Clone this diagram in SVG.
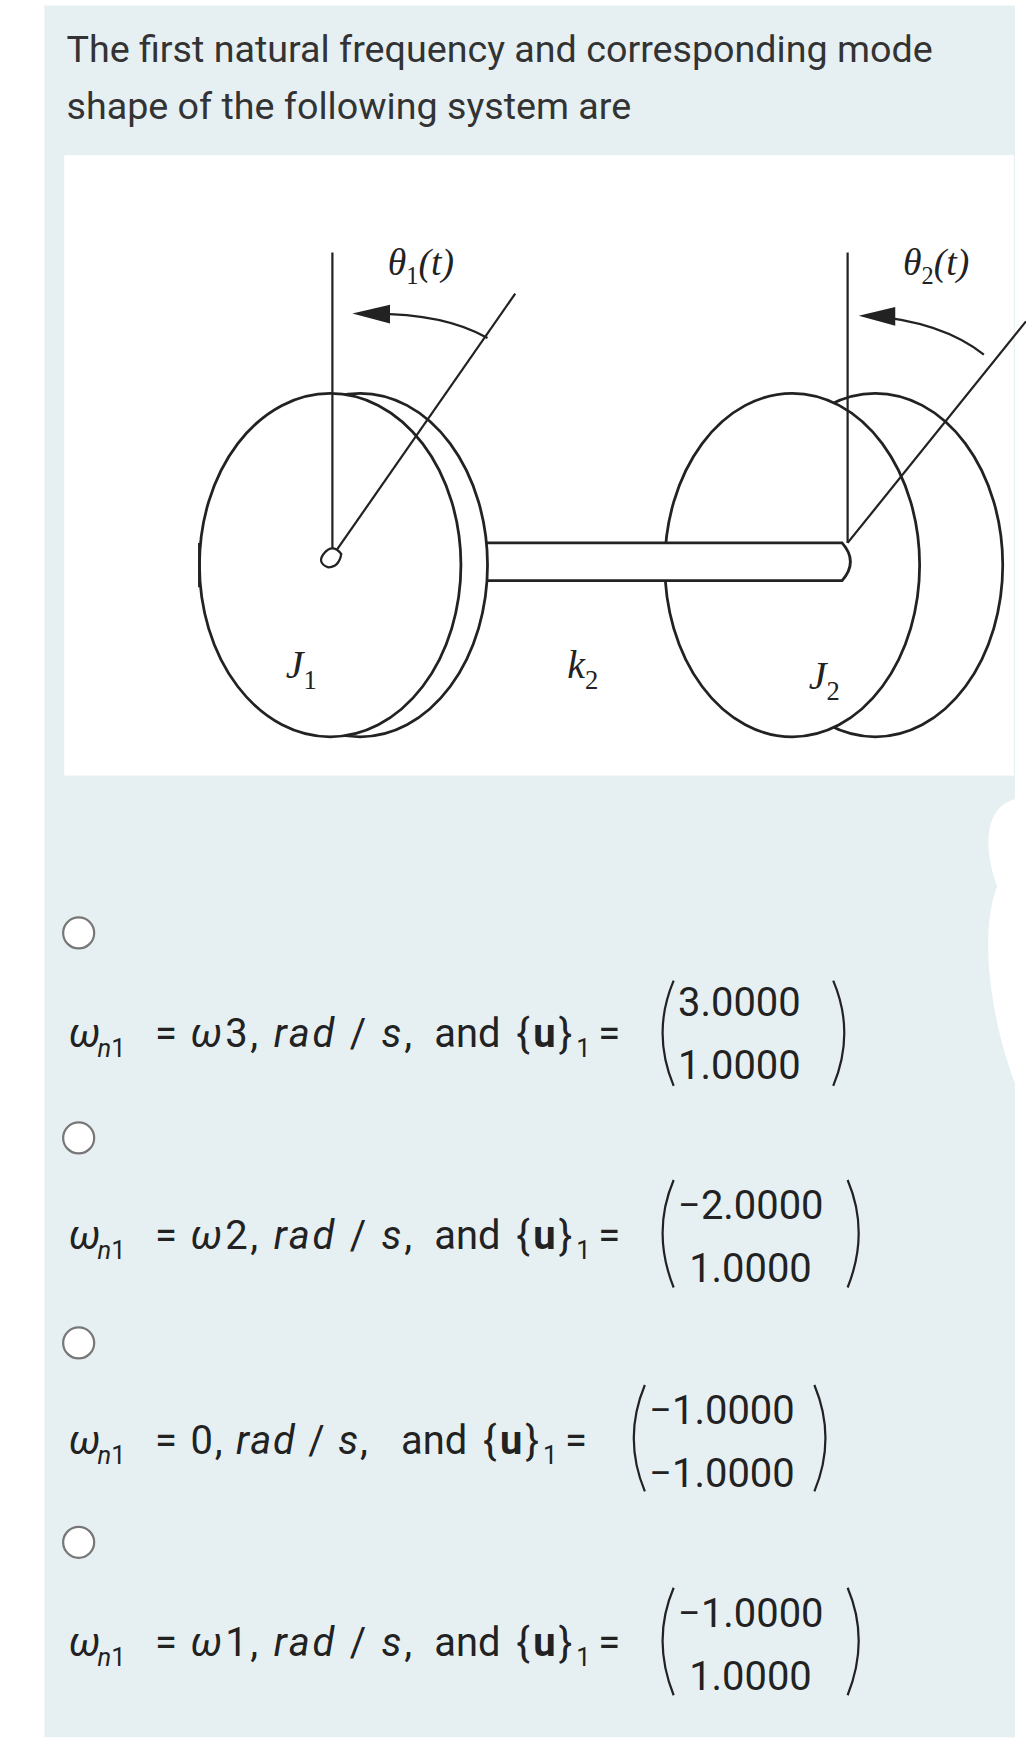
<svg xmlns="http://www.w3.org/2000/svg" width="1026" height="1738" viewBox="0 0 1026 1738">
<style>
.t{font-family:"Roboto","Liberation Sans",sans-serif;fill:#333}
.s{font-family:"Liberation Serif",serif;fill:#222;font-style:italic}
.m{font-family:"Roboto","Liberation Sans",sans-serif;fill:#222;font-size:36px}
.i{font-style:italic}
.b{font-weight:bold}
.sb{font-size:23px}
.l{stroke:#222;stroke-width:2.5}
.p{fill:none;stroke:#222;stroke-width:2}
.c{fill:#fff;stroke:#777;stroke-width:2}
</style>
<defs>
<g id="f">
<text class="m i" x="62" y="0">ω</text>
<text class="m sb" x="88" y="9"><tspan class="i">n</tspan>1</text>
<text class="m" x="140" y="0">=</text>
</g>
<g id="g">
<text class="m" x="392" y="0">and</text>
<text class="m" x="466" y="0" letter-spacing="3">{<tspan class="b">u</tspan>}</text>
<text class="m sb" x="520" y="9">1</text>
<text class="m" x="540" y="0">=</text>
</g>
</defs>
<rect width="1026" height="1738" fill="#fff"/>
<g transform="scale(1.108)">
<rect x="40" y="5" width="876" height="1563" fill="#e6f0f3"/>
<path d="M926 720 C890 720 885 760 900 800 C880 850 900 950 926 1000 Z" fill="#fff"/>
<g id="title"><text class="t" x="60" y="56" font-size="34">The first natural frequency and corresponding mode</text>
<text class="t" x="60" y="107" font-size="34">shape of the following system are</text></g>
<rect x="58" y="140" width="857" height="560" fill="#fff"/>
<g id="disk2">
<ellipse class="l" cx="790" cy="510" rx="115" ry="155" style="fill:#fff"/>
<ellipse class="l" cx="715" cy="510" rx="115" ry="155" style="fill:#fff"/>
</g>
<g id="shaft"><path class="l" d="M400 490 L760 490 Q775 507 760 524 L400 524" style="fill:#fff"/></g>
<g id="disk1">
<ellipse class="l" cx="325" cy="510" rx="115" ry="155" style="fill:#fff"/>
<ellipse class="l" cx="298" cy="510" rx="118" ry="155" style="fill:#fff"/>
<path class="l" d="M180 490 L180 530" stroke-width="4"/>
</g>
<g id="angles">
<path class="p" d="M300 228 L300 502"/>
<path class="p" d="M300 502 L465 265"/>
<path class="p" d="M292 500 Q300 490 308 500 Q306 512 296 512 Q286 508 292 500 Z" style="fill:#fff"/>
<path class="p" d="M440 305 Q400 282 330 283"/>
<polygon points="318,283 352,275 352,292" fill="#222"/>
<path class="p" d="M765 228 L765 490"/>
<path class="p" d="M765 490 L926 290"/>
<path class="p" d="M888 320 Q850 290 785 285"/>
<polygon points="775,285 808,277 808,294" fill="#222"/>
</g>
<g id="labels">
<text class="s" x="350" y="248" font-size="34">θ<tspan font-size="22" dy="8" font-style="normal">1</tspan><tspan dy="-8">(t)</tspan></text>
<text class="s" x="815" y="248" font-size="34">θ<tspan font-size="22" dy="8" font-style="normal">2</tspan><tspan dy="-8">(t)</tspan></text>
<text class="s" x="258" y="612" font-size="36">J<tspan font-size="24" dy="10" font-style="normal">1</tspan></text>
<text class="s" x="512" y="612" font-size="36">k<tspan font-size="24" dy="10" font-style="normal">2</tspan></text>
<text class="s" x="730" y="622" font-size="36">J<tspan font-size="24" dy="10" font-style="normal">2</tspan></text>
</g>
<g id="opt1"><circle class="c" cx="71" cy="842" r="14"/>
<use href="#f" y="945"/><use href="#g" y="945"/><text class="m" x="172" y="945" textLength="200" lengthAdjust="spacing"><tspan class="i">ω</tspan>3, <tspan class="i">rad</tspan> / <tspan class="i">s</tspan>,</text>
<path class="p" d="M608 885 Q588 932 608 980"/><path class="p" d="M752 885 Q772 932 752 980"/>
<text class="m" x="612" y="917">3.0000</text><text class="m" x="612" y="974">1.0000</text></g>
<g id="opt2"><circle class="c" cx="71" cy="1027" r="14"/>
<use href="#f" y="1127"/><use href="#g" y="1127"/><text class="m" x="172" y="1127" textLength="200" lengthAdjust="spacing"><tspan class="i">ω</tspan>2, <tspan class="i">rad</tspan> / <tspan class="i">s</tspan>,</text>
<path class="p" d="M608 1065 Q588 1112 608 1162"/><path class="p" d="M765 1065 Q785 1112 765 1162"/>
<text class="m" x="612" y="1100">−2.0000</text><text class="m" x="622" y="1157">1.0000</text></g>
<g id="opt3"><circle class="c" cx="71" cy="1212" r="14"/>
<use href="#f" y="1312"/><use href="#g" x="-30" y="1312"/><text class="m" x="172" y="1312" textLength="160" lengthAdjust="spacing">0, <tspan class="i">rad</tspan> / <tspan class="i">s</tspan>,</text>
<path class="p" d="M582 1250 Q562 1298 582 1346"/><path class="p" d="M735 1250 Q755 1298 735 1346"/>
<text class="m" x="586" y="1285">−1.0000</text><text class="m" x="586" y="1342">−1.0000</text></g>
<g id="opt4"><circle class="c" cx="71" cy="1392" r="14"/>
<use href="#f" y="1495"/><use href="#g" y="1495"/><text class="m" x="172" y="1495" textLength="200" lengthAdjust="spacing"><tspan class="i">ω</tspan>1, <tspan class="i">rad</tspan> / <tspan class="i">s</tspan>,</text>
<path class="p" d="M608 1433 Q588 1480 608 1530"/><path class="p" d="M765 1433 Q785 1480 765 1530"/>
<text class="m" x="612" y="1468">−1.0000</text><text class="m" x="622" y="1525">1.0000</text></g>
</g>
</svg>
